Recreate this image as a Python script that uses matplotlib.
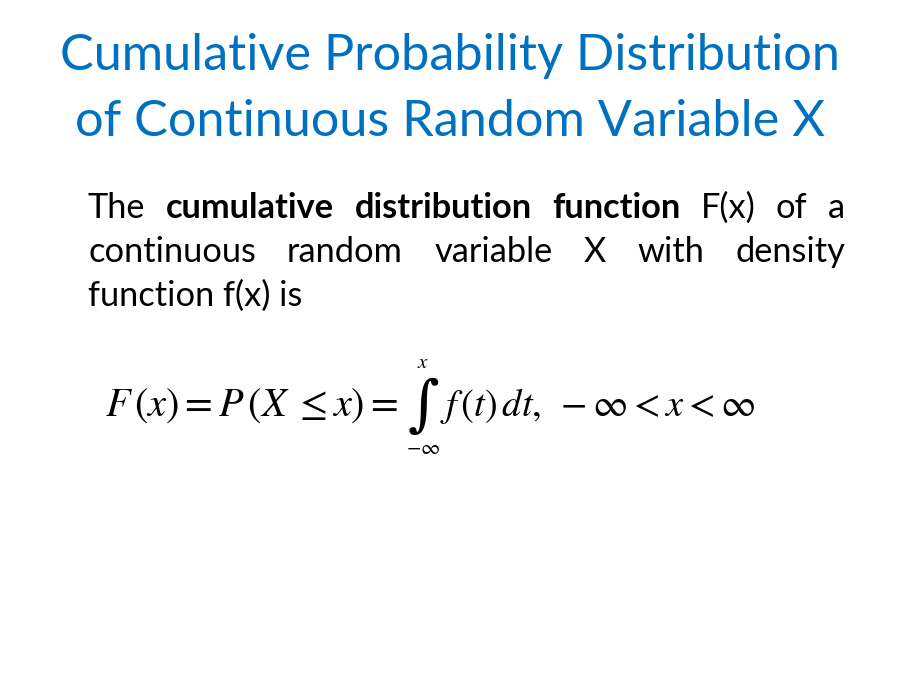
import matplotlib
matplotlib.use("Agg")
import matplotlib.pyplot as plt

plt.rcParams["mathtext.fontset"] = "stix"

title_lines = ["Cumulative Probability Distribution", "of Continuous Random Variable X"]
body_lines = [
    [("The", False), ("cumulative", True), ("distribution", True), ("function", True),
     ("F(x)", False), ("of", False), ("a", False)],
    [("continuous", False), ("random", False), ("variable", False), ("X", False),
     ("with", False), ("density", False)],
    [("function f(x) is", False)],
]
formula_left = r"$F\,(x) = P\,(X\;\leq x) =$"
formula_right = r"$f\,(t)\,dt,\; -\infty < x < \infty$"
upper_limit = r"$x$"
lower_limit = r"$-\infty$"

BLUE = "#0070C0"
SANS = ["Lato", "DejaVu Sans"]

fig = plt.figure(figsize=(9, 6.75), dpi=100)
ax = fig.add_axes([0, 0, 1, 1])
ax.set_xlim(0, 900)
ax.set_ylim(675, 0)
ax.axis("off")
fig.canvas.draw()
rend = fig.canvas.get_renderer()


def width_of(t):
    return t.get_window_extent(renderer=rend).width


def fit(t, target):
    t.set_fontsize(t.get_fontsize() * target / width_of(t))


# title
t1 = ax.text(450, 70, title_lines[0], ha="center", va="baseline", color=BLUE, family=SANS, fontsize=30)
fit(t1, 780)
t2 = ax.text(450, 136, title_lines[1], ha="center", va="baseline", color=BLUE, family=SANS,
             fontsize=t1.get_fontsize())

# body, justified between x0 and x1
x0, x1 = 88, 845
base_y = [218, 262, 306]
probe = ax.text(x0, base_y[2], body_lines[2][0][0], va="baseline", family=SANS, fontsize=20)
fit(probe, 303 - x0)
bsize = probe.get_fontsize()
probe.remove()

for li, words in enumerate(body_lines):
    items = []
    for w, b in words:
        t = ax.text(0, base_y[li], w, va="baseline", family=SANS, fontsize=bsize,
                    fontweight="bold" if b else "normal", color="black")
        items.append(t)
    if len(items) == 1:
        items[0].set_x(x0)
        continue
    ws = [width_of(t) for t in items]
    gap = (x1 - x0 - sum(ws)) / (len(items) - 1)
    x = x0
    for t, w in zip(items, ws):
        t.set_x(x)
        x += w + gap

# formula
fy = 416
fl = ax.text(105, fy, formula_left, va="baseline", ha="left", fontsize=26)
fit(fl, 398 - 105)
fr = ax.text(440, fy, formula_right, va="baseline", ha="left", fontsize=fl.get_fontsize())
fit(fr, 755 - 440)

integ = ax.text(423, 407, "\u222b", ha="center", va="center", fontsize=40,
                family="DejaVu Serif", fontweight="light")
h = integ.get_window_extent(renderer=rend).height
integ.set_fontsize(40 * 60 / h)
ax.text(423, 368, upper_limit, ha="center", va="baseline", fontsize=15)
ax.text(423, 454, lower_limit, ha="center", va="baseline", fontsize=15)

fig.savefig("out.png", dpi=100)
